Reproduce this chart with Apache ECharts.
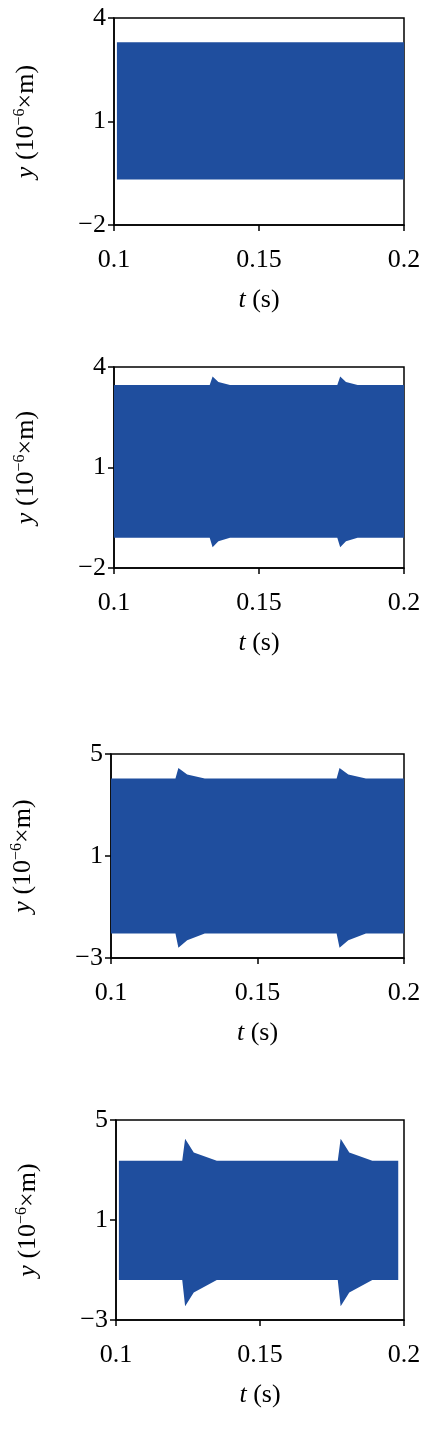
<!DOCTYPE html>
<html><head><meta charset="utf-8">
<script src="https://cdn.jsdelivr.net/npm/echarts@6/dist/echarts.min.js"></script>
<style>html,body{margin:0;padding:0;background:#fff}#c{width:425px;height:1433px}</style>
</head><body><div id="c"></div>
<script>
// Envelope of the displacement signal (upper/lower), t in s, y in 1e-6 m
const t1 = [0.101, 0.2];
const up1 = [3.3, 3.3];
const lo1 = [-0.68, -0.68];

const t2 = [0.1, 0.133, 0.134, 0.136, 0.14, 0.177, 0.178, 0.18, 0.184, 0.2];
const up2 = [3.46, 3.46, 3.72, 3.55, 3.46, 3.46, 3.72, 3.55, 3.46, 3.46];
const lo2 = [-1.1, -1.1, -1.38, -1.2, -1.1, -1.1, -1.38, -1.2, -1.1, -1.1];

const t3 = [0.1, 0.122, 0.123, 0.126, 0.132, 0.177, 0.178, 0.181, 0.187, 0.2];
const up3 = [4.04, 4.04, 4.45, 4.2, 4.04, 4.04, 4.45, 4.2, 4.04, 4.04];
const lo3 = [-2.04, -2.04, -2.6, -2.3, -2.04, -2.04, -2.6, -2.3, -2.04, -2.04];

const t4 = [0.101, 0.123, 0.124, 0.127, 0.135, 0.177, 0.178, 0.181, 0.189, 0.198];
const up4 = [3.37, 3.37, 4.25, 3.7, 3.37, 3.37, 4.25, 3.7, 3.37, 3.37];
const lo4 = [-1.4, -1.4, -2.45, -1.9, -1.4, -1.4, -2.45, -1.9, -1.4, -1.4];

const panels = [
  {t: t1, up: up1, lo: lo1, min: -2, max: 4, interval: 3, top: 18, bottom: 225, left: 114},
  {t: t2, up: up2, lo: lo2, min: -2, max: 4, interval: 3, top: 367, bottom: 568, left: 114},
  {t: t3, up: up3, lo: lo3, min: -3, max: 5, interval: 4, top: 754, bottom: 958, left: 111},
  {t: t4, up: up4, lo: lo4, min: -3, max: 5, interval: 4, top: 1120, bottom: 1320, left: 116}
];
const FONT = 'Liberation Serif';
const FS = 26;
const BLUE = '#1f4e9e';
const grids = [], xAxes = [], yAxes = [], series = [];
panels.forEach((p, i) => {
  grids.push({left: p.left, width: 404 - p.left, top: p.top, height: p.bottom - p.top});
  xAxes.push({type: 'value', gridIndex: i, min: 0.1, max: 0.2, interval: 0.05,
    axisLine: {onZero: false, lineStyle: {color: '#000', width: 1.5}},
    axisTick: {length: 6, lineStyle: {color: '#000', width: 1.5}},
    axisLabel: {color: '#000', fontFamily: FONT, fontSize: FS, margin: 22, formatter: v => String(+v.toFixed(2))},
    splitLine: {show: false},
    name: '{i|t} (s)', nameLocation: 'middle', nameGap: 62,
    nameTextStyle: {color: '#000', fontFamily: FONT, fontSize: FS, rich: {i: {fontStyle: 'italic', fontFamily: FONT, fontSize: FS}}}
  });
  yAxes.push({type: 'value', gridIndex: i, min: p.min, max: p.max, interval: p.interval,
    axisLine: {lineStyle: {color: '#000', width: 1.5}},
    axisTick: {length: 6, lineStyle: {color: '#000', width: 1.5}},
    axisLabel: {color: '#000', fontFamily: FONT, fontSize: FS, margin: 8, formatter: v => v < 0 ? '\u2212' + Math.abs(v) : String(v)},
    splitLine: {show: false},
    name: '{i|y} (10{s|\u22126}\u00d7m)', nameLocation: 'middle', nameGap: 74,
    nameTextStyle: {color: '#000', fontFamily: FONT, fontSize: FS,
      rich: {i: {fontStyle: 'italic', fontFamily: FONT, fontSize: FS}, s: {fontFamily: FONT, fontSize: 16, verticalAlign: 'top', padding: [0,0,12,0]}}}
  });
  const data = p.t.map((x, k) => [x, p.lo[k], p.up[k]]);
  series.push({type: 'custom', xAxisIndex: i, yAxisIndex: i, data: data, silent: true,
    renderItem: (params, api) => {
      if (params.dataIndex !== 0) return null;
      const pts = [];
      for (let k = 0; k < data.length; k++) pts.push(api.coord([data[k][0], data[k][2]]));
      for (let k = data.length - 1; k >= 0; k--) pts.push(api.coord([data[k][0], data[k][1]]));
      return {type: 'polygon', shape: {points: pts}, style: {fill: BLUE}};
    }
  });
});
const chart = echarts.init(document.getElementById('c'), null, {renderer: 'canvas'});
chart.setOption({
  animation: false,
  grid: grids.map(g => Object.assign({show: true, borderColor: '#000', borderWidth: 1.5, backgroundColor: 'transparent'}, g)),
  xAxis: xAxes, yAxis: yAxes, series: series
});
</script></body></html>
